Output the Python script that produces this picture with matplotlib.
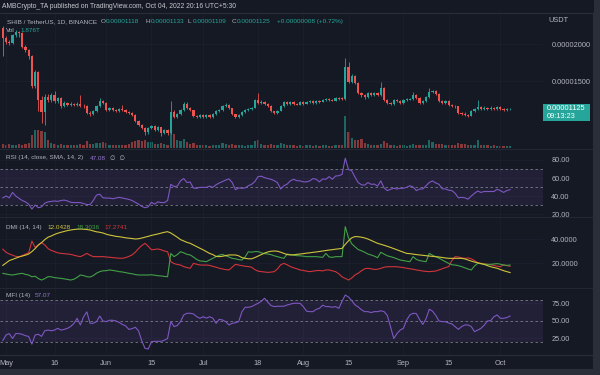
import numpy as np
import pandas as pd
import matplotlib
matplotlib.use('Agg')
import matplotlib.pyplot as plt
from matplotlib.patches import Rectangle
from matplotlib.lines import Line2D

plt.rcParams['font.family'] = ['Liberation Sans', 'DejaVu Sans']

# prices in units of 1e-8 USDT, volume in trillions, one candle per day from start_date
start_date = '2022-04-30'
first_open = 2216
closes = [
    2081, 2027, 2014, 2122, 2162, 2149, 1959, 1919, 1838, 1433,
    1622, 1243, 1081, 1284, 1243, 1311, 1230, 1270, 1162, 1203,
    1176, 1189, 1176, 1189, 1162, 1158, 1068, 1054, 1095, 1162,
    1230, 1203, 1108, 1135, 1108, 1095, 1122, 1108, 1081, 1068,
    1041, 960, 906, 865, 811, 865, 892, 838, 879, 798,
    838, 798, 1081, 1014, 1054, 1108, 1189, 1135, 1108, 1027,
    1014, 1041, 1014, 1041, 1014, 1054, 1095, 1108, 1162, 1176,
    1135, 1054, 1014, 1041, 1081, 1108, 1122, 1135, 1243, 1203,
    1216, 1189, 1162, 1095, 1068, 1095, 1162, 1216, 1189, 1216,
    1189, 1182, 1216, 1189, 1216, 1230, 1203, 1230, 1216, 1243,
    1257, 1243, 1236, 1270, 1263, 1257, 1689, 1487, 1568, 1473,
    1338, 1311, 1284, 1338, 1311, 1338, 1311, 1406, 1243, 1203,
    1189, 1243, 1230, 1203, 1243, 1250, 1257, 1311, 1270, 1203,
    1230, 1284, 1352, 1365, 1324, 1230, 1203, 1230, 1176, 1162,
    1156, 1068, 1061, 1041, 1034, 1095, 1122, 1149, 1122, 1142,
    1122, 1142, 1122, 1149, 1122, 1108, 1118, 1125]
highs = [
    2240, 2110, 2060, 2140, 2190, 2180, 2160, 1980, 1930, 1850,
    1650, 1640, 1300, 1320, 1320, 1340, 1370, 1290, 1290, 1230,
    1220, 1210, 1200, 1210, 1311, 1190, 1170, 1090, 1110, 1180,
    1270, 1250, 1210, 1150, 1150, 1120, 1140, 1170, 1120, 1095,
    1080, 1050, 975, 920, 880, 880, 910, 900, 895, 885,
    850, 850, 1230, 1110, 1070, 1120, 1210, 1210, 1150, 1115,
    1045, 1055, 1050, 1055, 1050, 1065, 1110, 1125, 1180, 1200,
    1185, 1140, 1060, 1055, 1095, 1120, 1135, 1150, 1260, 1340,
    1250, 1225, 1200, 1170, 1100, 1110, 1175, 1235, 1230, 1230,
    1225, 1200, 1225, 1225, 1230, 1245, 1240, 1245, 1250, 1260,
    1270, 1275, 1255, 1285, 1290, 1280, 1811, 1757, 1590, 1580,
    1480, 1350, 1330, 1350, 1345, 1350, 1345, 1487, 1420, 1255,
    1215, 1255, 1255, 1240, 1255, 1265, 1275, 1352, 1320, 1280,
    1245, 1300, 1406, 1385, 1375, 1335, 1240, 1245, 1240, 1190,
    1175, 1165, 1080, 1075, 1055, 1105, 1135, 1243, 1160, 1160,
    1150, 1160, 1150, 1165, 1160, 1130, 1135, 1133]
lows = [
    1838, 2000, 1990, 2000, 2100, 2100, 1940, 1890, 1800, 1400,
    1400, 1100, 933, 900, 1210, 1220, 1200, 1200, 1140, 1150,
    1160, 1160, 1160, 1165, 1150, 1130, 1050, 1030, 1040, 1080,
    1150, 1190, 1090, 1095, 1095, 1080, 1085, 1095, 1065, 1050,
    1030, 945, 890, 850, 770, 790, 850, 820, 825, 760,
    780, 770, 790, 1000, 1000, 1040, 1100, 1120, 1090, 1010,
    1000, 1005, 1000, 1005, 1000, 1005, 1045, 1085, 1100, 1150,
    1120, 1040, 1000, 1005, 1030, 1070, 1100, 1115, 1130, 1190,
    1195, 1175, 1150, 1080, 1050, 1060, 1090, 1150, 1180, 1180,
    1180, 1170, 1175, 1180, 1185, 1205, 1195, 1195, 1205, 1210,
    1230, 1235, 1225, 1225, 1250, 1245, 1250, 1470, 1470, 1460,
    1320, 1290, 1260, 1275, 1300, 1300, 1300, 1300, 1230, 1190,
    1175, 1180, 1215, 1190, 1195, 1235, 1240, 1250, 1260, 1190,
    1195, 1220, 1275, 1340, 1315, 1220, 1190, 1195, 1165, 1150,
    1140, 1050, 1045, 1030, 1020, 1025, 1085, 1115, 1110, 1115,
    1110, 1115, 1110, 1115, 1110, 1095, 1100, 1109]
volumes = [
    4, 3, 4, 3, 3, 4, 3, 4, 5, 13,
    18, 18, 17, 16, 8, 5, 4, 3, 4, 3,
    3, 3, 3, 3, 4, 3, 7, 4, 4, 5,
    5, 6, 5, 3, 3, 3, 3, 3, 3, 4,
    6, 7, 8, 7, 8, 6, 6, 4, 4, 5,
    4, 3, 15, 14, 8, 7, 9, 6, 4, 5,
    3, 3, 3, 3, 2, 3, 3, 3, 5, 4,
    3, 4, 3, 3, 3, 2, 3, 3, 7, 8,
    4, 3, 3, 4, 3, 3, 5, 4, 3, 3,
    3, 2, 3, 2, 3, 3, 2, 3, 2, 3,
    3, 2, 2, 3, 3, 3, 32, 16, 10, 8,
    8, 9, 5, 4, 3, 3, 3, 4, 7, 5,
    3, 3, 2, 3, 3, 2, 3, 4, 3, 3,
    3, 3, 8, 6, 4, 4, 4, 3, 3, 3,
    3, 5, 4, 4, 3, 3, 3, 8, 3, 3,
    3, 2, 3, 2, 2, 2, 2, 1.876]
rsi = [
    38, 40, 38, 44, 40, 37.5, 35, 33.5, 31, 25.5,
    30, 27, 28, 32, 33.5, 34, 34.5, 34, 35, 35.5,
    34.5, 33, 32.7, 32.7, 32.7, 31.6, 30.5, 30.5, 35, 41,
    42, 38, 37.7, 37.7, 37, 37.7, 38.5, 37.7, 37, 36.3,
    35, 33, 31, 28.5, 27, 28, 33, 31, 33.5, 32.7,
    32.7, 35, 53, 50.5, 51, 56.8, 59.4, 55, 55.5, 48.8,
    48.6, 49.6, 49.6, 49.6, 51, 49.6, 52.5, 54.5, 56, 57.7,
    59, 55, 47, 49, 48.6, 49, 51.4, 53, 56, 61.5,
    62, 60.4, 59.4, 58.6, 57, 55, 47.8, 51.4, 53.2, 56.8,
    58.6, 57, 56.8, 55.7, 55.7, 56.8, 59.4, 58.6, 55.7, 59,
    58.6, 61.5, 58.6, 62.2, 62.5, 64, 82, 69.5, 68, 61,
    55, 52.5, 52, 55, 53, 53.2, 51, 56.8, 49, 46,
    47.5, 48.6, 47.8, 48.6, 48.6, 49.6, 51.4, 50, 46, 47.8,
    47.8, 51.4, 55, 56.8, 54.5, 53, 48, 47.8, 46.5, 46,
    43, 38, 38.5, 38, 36.5, 40, 43, 45.5, 44, 45,
    45, 45, 45, 47.5, 46, 44, 46, 47.08]
dmi_yellow = [
    18, 20, 22, 23, 24, 25, 25.8, 26.5, 27.5, 29.5,
    32, 35, 37, 39.5, 41.5, 42.5, 43.8, 44.8, 45.6, 46.3,
    47, 47.5, 47.9, 48.2, 48.3, 48.2, 47.9, 47.5, 46.7, 46,
    45.6, 45, 44, 43.3, 42.8, 42.2, 41.9, 41.5, 41, 40.7,
    40.4, 40, 40.2, 40.8, 41.5, 42.2, 43, 43.6, 44.2, 44.9,
    45.6, 46.1, 45, 43.3, 41.5, 39.5, 38.3, 37.2, 36.4, 35,
    33.5, 32.3, 31, 29.5, 28, 27, 25.5, 25.3, 25.6, 26.2,
    26.7, 26.7, 26.7, 26, 24.5, 23.9, 23.5, 23.5, 24.5, 25.8,
    27, 28.2, 29.2, 29.8, 30, 29.8, 29, 28, 27, 26.7,
    26.8, 27.2, 27.5, 27.8, 28.2, 28.5, 28.9, 29.2, 29.6, 30,
    30.4, 30.8, 31.1, 31.5, 31.8, 32.2, 35.5, 38.5, 41, 42,
    41.9, 41.5, 40.9, 40, 38.8, 37.5, 36.4, 35.6, 34.8, 33.9,
    33, 32, 31, 30, 29, 28, 27.8, 27.4, 27, 26.7,
    26.4, 26.1, 25.8, 25.5, 25.3, 25, 24.6, 24.2, 23.9, 23.9,
    23.9, 23.9, 23.9, 23.4, 22.5, 21.6, 20.8, 20.1, 19.5, 18.8,
    17.8, 16.9, 16.2, 15.6, 14.6, 13.6, 12.8, 12.04]
dmi_green = [
    11.4, 10.8, 10.3, 10, 10.5, 11, 11.4, 10.5, 10, 8.5,
    9, 7, 5.8, 7, 8.6, 8.5, 7.8, 7.5, 7.2, 6.8,
    6.3, 5.8, 6.5, 8, 10, 9.5, 8.6, 8.3, 9.5, 11.5,
    12.8, 13.5, 13.6, 14.2, 13.8, 13.4, 12.8, 12.5, 12, 11.4,
    11, 10.4, 10, 10, 10, 10, 10.2, 9.8, 9.4, 9.2,
    8.8, 8.6, 28, 25.3, 27, 29.4, 28.5, 27.2, 26.7, 25,
    23, 21.7, 21.5, 21.1, 22.5, 24, 25.3, 26.5, 27.2, 26,
    25, 23.9, 23.5, 22.8, 22.5, 25, 29.4, 29, 29.5, 29.5,
    28.5, 27.8, 27.5, 27, 26, 25.3, 24.5, 23.9, 27.5, 27,
    26.5, 26.1, 26, 25.7, 25.3, 25.3, 25.3, 25.3, 25, 24.7,
    28, 25, 24.7, 25.3, 25.3, 25.3, 50.3, 41, 36, 33.5,
    31.2, 30.2, 29, 27.5, 26.7, 25.7, 24.4, 28.9, 27.5, 26,
    25.3, 24.5, 23.5, 22.5, 22, 21.5, 21.1, 25.3, 23, 22,
    21.5, 21.1, 28, 26.5, 25.3, 24, 22.5, 21.1, 19.7, 18.5,
    18.3, 17.8, 17, 16, 15, 14.2, 17.5, 19.7, 19.4, 19.1,
    18.8, 18.9, 19.2, 19.5, 19, 18.3, 18, 18.3036]
dmi_red = [
    31.5, 29, 27.5, 26.5, 25.5, 25.3, 26, 27.5, 28.5, 38.3,
    33, 35, 37, 35, 32, 30.5, 29.5, 28.5, 28, 27.8,
    27.5, 27.2, 26.5, 25.8, 25.3, 26.5, 28, 26.5, 25.3, 25.3,
    25.3, 25.3, 25, 24.8, 24.5, 24.2, 24, 23.9, 24.5, 25.5,
    26.7, 29, 32, 34.5, 36.4, 34, 31, 31.3, 31.7, 31,
    30, 29.4, 21.1, 19.5, 18.8, 18.3, 17, 16.2, 15.6, 19.7,
    19, 18.3, 18.3, 18.3, 18, 17.2, 16.5, 15.6, 15, 14.5,
    14.2, 16.5, 18.9, 18.3, 17.8, 17.3, 17, 16.5, 14.5, 13.2,
    12.8, 12.5, 12.2, 12.4, 12.8, 15, 18.5, 19.7, 18.5, 17,
    16, 15.2, 14.2, 13.8, 13.2, 12.8, 13.2, 13.6, 13.8, 13.4,
    14.2, 14.2, 13.5, 12.8, 11, 8.5, 7.2, 5.8, 7.5, 10,
    11.5, 13.5, 15.2, 15.6, 15.2, 14.6, 14.8, 15.5, 16.5, 16.9,
    16.9, 16.9, 16.9, 16.5, 16.2, 15.6, 15.2, 14.8, 14.2, 13.8,
    13.3, 13, 12.8, 13, 13.3, 14.2, 15.2, 16.2, 17, 22,
    25.3, 25, 24.2, 23.9, 24.2, 23.5, 22, 20.2, 19.7, 19.3,
    19, 18.5, 18, 17.3, 16.9, 18.5, 17.8, 17.2741]
mfi = [
    22, 30, 32, 25, 32, 32, 31, 29, 28, 17,
    30, 31, 28, 36, 37, 36, 37, 39.5, 37, 38,
    39.5, 42, 46.5, 53.8, 44.3, 56, 63, 46.7, 46.7, 49,
    57, 50, 49, 51, 51, 50, 48, 45, 43, 38,
    39, 41, 36, 22, 11, 10, 20.5, 21, 21, 21,
    22.5, 25, 49, 42, 43.5, 49, 58.6, 61, 61, 60,
    56.2, 53.8, 56, 54, 56, 54, 46.7, 52.3, 51.4, 49,
    44.3, 46.7, 47.5, 49, 63, 69.5, 69.5, 70.5, 72.8, 75.2,
    78, 82.4, 77, 72, 70.5, 71, 71, 71, 72.8, 74,
    75.2, 75.2, 75.2, 70.5, 64, 63.3, 63.3, 66.5, 68, 72.5,
    70.5, 70.5, 69.5, 70.5, 68, 78, 87, 84, 79, 73,
    70, 66, 63.3, 63.3, 62, 63.3, 63.3, 64.5, 63.3, 58,
    41.9, 25, 32, 37.1, 39.5, 51.4, 58.6, 61, 60.5, 52,
    45, 53, 66.7, 64, 58, 50, 49, 49, 47, 45.8,
    42, 38, 41.9, 44.3, 44.3, 42, 34.7, 37, 39.5, 44,
    50, 50.5, 56, 58.6, 53.8, 53.8, 54.8, 57.07]

tick_dates = ['2022-05-01', '2022-05-16', '2022-06-01', '2022-06-15', '2022-07-01', '2022-07-18',
              '2022-08-01', '2022-08-15', '2022-09-01', '2022-09-15', '2022-10-01']
tick_labels = ['May', '16', 'Jun', '15', 'Jul', '18', 'Aug', '15', 'Sep', '15', 'Oct']

# colours
bg = '#151924'
txt = '#b2b5be'
grid_c = '#1d2130'
sep = '#2a2e39'
up_c = '#26a69a'
dn_c = '#ef5350'
vol_up = '#1e6663'
vol_dn = '#86383b'
purple = '#7e57c2'
yellow = '#cfc53b'
green = '#43a047'
red = '#d1343a'
fs = 5.3     # axis labels
lfs = 4.6    # legend rows

W, H = 600, 375
n = len(closes)
xs = np.arange(n)
c = np.array(closes, dtype=float)
o = np.array([first_open] + closes[:-1], dtype=float)
rising = c >= o
cols = np.where(rising, up_c, dn_c)
vcols = np.where(rising, vol_up, vol_dn)
tick_x = (pd.to_datetime(tick_dates) - pd.Timestamp(start_date)).days.values
XL = (-0.87, 167.2)


def rect(x0, y0, x1, y1):
    return [x0 / W, 1 - y1 / H, (x1 - x0) / W, (y1 - y0) / H]


def ftext(x, y, s, color=txt, size=lfs, **kw):
    fig.text(x / W, 1 - y / H, s, color=color, fontsize=size, va='center', ha='left', **kw)


def hline(y, x0=0, x1=593, color=sep, lw=0.8):
    fig.add_artist(Line2D([x0 / W, x1 / W], [1 - y / H, 1 - y / H], color=color, lw=lw))


def panel(r, ylim, yticks, fmt):
    ax = fig.add_axes(r)
    ax.set_facecolor('none')
    ax.set_xlim(*XL)
    ax.set_ylim(*ylim)
    for s in ax.spines.values():
        s.set_visible(False)
    ax.set_xticks(tick_x)
    ax.set_yticks(yticks)
    ax.set_yticklabels([fmt(v) for v in yticks])
    ax.yaxis.tick_right()
    ax.tick_params(axis='y', length=0, pad=6, labelsize=fs, labelcolor=txt)
    ax.tick_params(axis='x', length=0, labelbottom=False)
    ax.grid(True, color=grid_c, linewidth=0.5)
    ax.set_axisbelow(True)
    return ax


fig = plt.figure(figsize=(6, 3.75), dpi=100, facecolor=bg)

# volume behind the price candles
axv = fig.add_axes(rect(0, 13, 543, 148))
axv.set_facecolor(bg)
axv.set_xlim(*XL)
axv.set_ylim(0, 135)
axv.axis('off')
axv.bar(xs, volumes, width=0.7, color=vcols)

axp = panel(rect(0, 13, 543, 148), (595, 2419), [1500, 2000], lambda v: f'{v / 1e8:.8f}')
axp.vlines(xs, lows, highs, colors=cols, linewidth=0.6)
axp.bar(xs, np.maximum(np.abs(c - o), 8), bottom=np.minimum(o, c), width=0.7, color=cols)

# RSI
axr = panel(rect(0, 149, 543, 217), (16.7, 92.2), [20, 40, 60, 80], lambda v: f'{v:.2f}')
axr.axhspan(30, 70, color=purple, alpha=0.12, lw=0)
for lv in (70, 50, 30):
    axr.axhline(lv, color='#787b86', lw=0.6, ls=(0, (3, 3)))
axr.plot(xs, rsi, color=purple, lw=0.8)

# DMI
axd = panel(rect(0, 218, 543, 287), (0, 57.5), [20, 40], lambda v: f'{v:.4f}')
axd.plot(xs, dmi_red, color=red, lw=0.8)
axd.plot(xs, dmi_green, color=green, lw=0.8)
axd.plot(xs, dmi_yellow, color=yellow, lw=0.8)

# MFI
axm = panel(rect(0, 288, 543, 354), (2.9, 97), [25, 50, 75], lambda v: f'{v:.2f}')
axm.axhspan(20, 80, color=purple, alpha=0.12, lw=0)
for lv in (80, 50, 20):
    axm.axhline(lv, color='#787b86', lw=0.6, ls=(0, (3, 3)))
axm.plot(xs, mfi, color=purple, lw=0.8)
axm.tick_params(axis='x', labelbottom=True, pad=4, labelsize=fs, labelcolor=txt)
axm.set_xticklabels(tick_labels)

# frame and separators
hline(13)
for yy in (148.5, 217.5, 287.5):
    hline(yy, 0, 593, color='#232734', lw=0.8)
hline(354.5, 0, 593)
hline(369)
fig.add_artist(Line2D([593 / W, 593 / W], [1 - 13 / H, 1 - 369 / H], color=sep, lw=0.8))
fig.add_artist(Rectangle((593.5 / W, 0), 6.5 / W, 1, transform=fig.transFigure, color='#2a2e39', lw=0))
fig.add_artist(Rectangle((0, 0), 1, 5.5 / H, transform=fig.transFigure, color='#2a2e39', lw=0))

# header and legends
ftext(2, 6.5, 'AMBCrypto_TA published on TradingView.com, Oct 04, 2022 20:16 UTC+5:30',
      color='#c8cad0', size=4.9)
ftext(7, 21.5, 'SHIB / TetherUS, 1D, BINANCE')
for lx, lab, val in ((101, 'O', '0.00001118'), (146, 'H', '0.00001133'),
                     (188, 'L', '0.00001109'), (232, 'C', '0.00001125')):
    ftext(lx, 21.5, lab)
    ftext(lx + 5, 21.5, val, color=up_c)
ftext(277, 21.5, '+0.00000008 (+0.72%)', color=up_c)
ftext(548, 20, 'USDT', size=fs)
ftext(6, 30, 'Vol')
ftext(20, 30, '1.876T', color=up_c)

ftext(6, 158, 'RSI (14, close, SMA, 14, 2)')
ftext(90, 158, '47.08', color='#9575cd')
ftext(110, 158, '\u2205  \u2205', family=['DejaVu Sans'])

ftext(6, 227.5, 'DMI (14, 14)')
ftext(47, 227.5, '12.0428', color=yellow)
ftext(76, 227.5, '18.3036', color=green)
ftext(104, 227.5, '17.2741', color=red)

ftext(6, 295.5, 'MFI (14)')
ftext(35, 295.5, '57.07', color='#9575cd')

# last price tag
fig.add_artist(Rectangle((543 / W, 1 - 121 / H), 47 / W, 17 / H, transform=fig.transFigure,
                         color=up_c, lw=0))
ftext(547, 108, '0.00001125', color='white', size=fs)
ftext(547, 116, '09:13:23', color='white', size=fs)

fig.savefig('out.png', dpi=100, facecolor=fig.get_facecolor())
